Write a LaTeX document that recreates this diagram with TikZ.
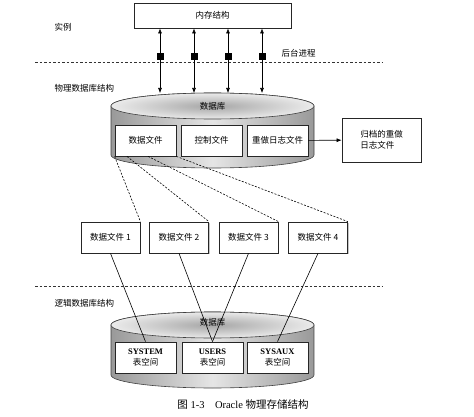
\documentclass[tikz,border=0pt]{standalone}
\usepackage{fontspec}
\setmainfont{Liberation Serif}
\newfontfamily\cjk{Noto Sans CJK SC}
\usetikzlibrary{positioning,arrows.meta,calc,shadows}

\begin{document}
\begin{tikzpicture}[x=1pt, y=1pt, font=\cjk\fontsize{8.5}{10.5}\selectfont]
\def\cylL{111}    % cylinder left
\def\cylR{314}    % cylinder right
\def\rx{101.5}    % cylinder x radius
\def\ry{13}       % cylinder y radius
\tikzset{
  box/.style={draw=black!85, line width=0.8pt, fill=white, minimum width=61pt,
    minimum height=31pt, inner sep=1pt, align=center,
    drop shadow={shadow xshift=1.2pt, shadow yshift=-1.2pt, fill=black!45}},
  lbl/.style={anchor=west, font=\cjk\fontsize{8.5}{10.5}\selectfont},
  sep/.style={dash pattern=on 2.5pt off 2pt, line width=0.5pt, black!80},
  dbl/.style={{Latex[length=5pt,width=4pt]}-{Latex[length=5pt,width=4pt]}, line width=0.6pt},
  arr/.style={-{Latex[length=5pt,width=4pt]}, line width=0.6pt},
  proc/.style={fill=black, minimum size=7pt, inner sep=0pt},
  link/.style={line width=0.6pt},
  dlink/.style={dash pattern=on 2pt off 1.5pt, line width=0.6pt},
  body/.style={draw=black!75, line width=0.6pt, left color=black!40,
    right color=black!40, middle color=black!10},
  lid/.style={draw=black!75, line width=0.6pt, inner color=black!35, outer color=black!8},
}
\useasboundingbox (0,0) rectangle (474,-417);

% ---- instance ----
\node[box, minimum width=157pt, minimum height=25pt] (mem) at (212.5,-15.5) {内存结构};
\node[lbl] (inst) at (51,-27) {实例};
\node[lbl] (bgp) at (278,-53) {后台进程};
\draw[sep] (35,-62) -- (383,-62);
\node[lbl] (phys) at (51,-88) {物理数据库结构};

% ---- physical database cylinder ----
\path[body] (\cylL,-106) -- (\cylL,-155)
  arc[start angle=180, end angle=360, x radius=\rx, y radius=\ry]
  -- (\cylR,-106) arc[start angle=0, end angle=180, x radius=\rx, y radius=\ry] -- cycle;
\path[lid] (212.5,-106) ellipse [x radius=\rx, y radius=\ry];
\node (db1) at (212.5,-106) {数据库};

% background processes
\foreach \x [count=\i] in {160,194,228,262}{
  \node[proc] (bg\i) at (\x,-57) {};
  \coordinate (top\i) at (\x,-93);
  \draw[dbl] (bg\i |- mem.south) -- (top\i);
}

\node[box] (df) at (145.5,-140.5) {数据文件};
\node[box] (cf) at (211.5,-140.5) {控制文件};
\node[box] (rf) at (277.5,-140.5) {重做日志文件};
\node[box, minimum width=79pt, minimum height=44pt, align=left] (arch) at (381.5,-140)
  {归档的重做\\日志文件};
\draw[arr] (rf) -- (arch);

% ---- data files ----
\foreach \x [count=\i] in {110.5,179,248.5,318}{
  \node[box, minimum width=59pt] (f\i) at (\x,-237.5) {数据文件 \i};
}
\draw[dlink] (df.south west) -- (f1.north east);
\draw[dlink] ($(df.south west)!0.2!(df.south east)$) -- (f2.north east);
\draw[dlink] ($(df.south west)!0.54!(df.south east)$) -- (f3.north east);
\draw[dlink] (df.south east) -- (f4.north east);

\draw[sep] (35,-286) -- (383,-286);
\node[lbl] (logi) at (51,-303) {逻辑数据库结构};

% ---- logical database cylinder ----
\path[body] (\cylL,-325) -- (\cylL,-375)
  arc[start angle=180, end angle=360, x radius=\rx, y radius=\ry]
  -- (\cylR,-325) arc[start angle=0, end angle=180, x radius=\rx, y radius=\ry] -- cycle;
\path[lid] (212.5,-325) ellipse [x radius=\rx, y radius=\ry];
\node (db2) at (212.5,-322) {数据库};

\node[box] (sys) at (145.5,-357.5) {\rmfamily\bfseries SYSTEM\\表空间};
\node[box] (usr) at (212.5,-357.5) {\rmfamily\bfseries USERS\\表空间};
\node[box] (aux) at (277.5,-357.5) {\rmfamily\bfseries SYSAUX\\表空间};
\draw[link] (f1.south) -- (sys.north);
\draw[link] (f2.south) -- (usr.north);
\draw[link] (f3.south) -- (usr.north);
\draw[link] (f4.south) -- (aux.north);

% ---- caption ----
\node[font=\rmfamily\fontsize{10.5}{12}\selectfont] (cap) at (243,-405)
  {{\cjk 图} 1-3\quad Oracle {\cjk 物理存储结构}};
\end{tikzpicture}
\end{document}
